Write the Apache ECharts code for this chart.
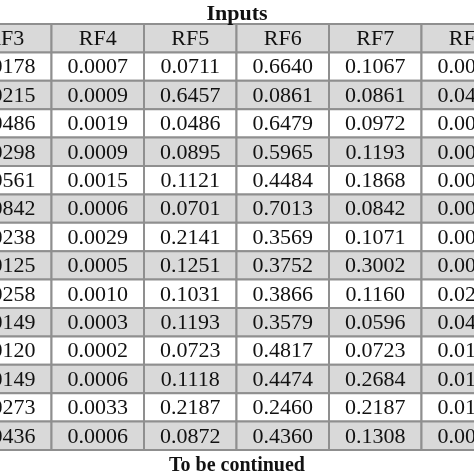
<!DOCTYPE html>
<html>
<head>
<meta charset="utf-8">
<script src="https://cdn.jsdelivr.net/npm/echarts@6/dist/echarts.min.js"></script>
<style>html,body{margin:0;padding:0;background:#fff}#main{width:474px;height:474px}</style>
</head>
<body>
<div id="main"></div>
<script>
var columns = ['RF3', 'RF4', 'RF5', 'RF6', 'RF7', 'RF8'];
var rf3 = ['0.0178', '0.0215', '0.0486', '0.0298', '0.0561', '0.0842', '0.0238', '0.0125', '0.0258', '0.0149', '0.0120', '0.0149', '0.0273', '0.0436'];
var rf4 = ['0.0007', '0.0009', '0.0019', '0.0009', '0.0015', '0.0006', '0.0029', '0.0005', '0.0010', '0.0003', '0.0002', '0.0006', '0.0033', '0.0006'];
var rf5 = ['0.0711', '0.6457', '0.0486', '0.0895', '0.1121', '0.0701', '0.2141', '0.1251', '0.1031', '0.1193', '0.0723', '0.1118', '0.2187', '0.0872'];
var rf6 = ['0.6640', '0.0861', '0.6479', '0.5965', '0.4484', '0.7013', '0.3569', '0.3752', '0.3866', '0.3579', '0.4817', '0.4474', '0.2460', '0.4360'];
var rf7 = ['0.1067', '0.0861', '0.0972', '0.1193', '0.1868', '0.0842', '0.1071', '0.3002', '0.1160', '0.0596', '0.0723', '0.2684', '0.2187', '0.1308'];
var rf8 = ['0.0036', '0.0430', '0.0049', '0.0060', '0.0075', '0.0028', '0.0071', '0.0050', '0.0258', '0.0477', '0.0120', '0.0149', '0.0164', '0.0044'];

var table = [rf3, rf4, rf5, rf6, rf7, rf8];
var rowCount = rf3.length + 1;

var cells = [];
columns.forEach(function (name, c) {
  cells.push([c, 0, name]);
  table[c].forEach(function (v, r) { cells.push([c, r + 1, v]); });
});

var chart = echarts.init(document.getElementById('main'));
chart.setOption({
  animation: false,
  title: [
    { text: 'Inputs', left: 'center', top: -2,
      textStyle: { fontFamily: 'Liberation Serif', fontSize: 22, fontWeight: 'bold', color: '#111' } },
    { text: 'To be continued', left: 'center', top: 451,
      textStyle: { fontFamily: 'Liberation Serif', fontSize: 20, fontWeight: 'bold', color: '#111' } }
  ],
  grid: { left: 0, right: 0, top: 24, height: 426 },
  // left part of RF3 and right part of RF8 fall outside the picture
  xAxis: { type: 'value', min: -0.0568, max: 5.0676, show: false },
  yAxis: { type: 'value', min: -0.5, max: rowCount - 0.5, inverse: true, show: false },
  series: [{
    type: 'custom',
    data: cells,
    renderItem: function (params, api) {
      var p = api.coord([api.value(0), api.value(1)]);
      var s = api.size([1, 1]);
      var row = api.value(1);
      var fill = (row % 2 === 0) ? '#d9d9d9' : '#ffffff';
      return {
        type: 'group',
        children: [{
          type: 'rect',
          shape: { x: p[0] - s[0] / 2, y: p[1] - s[1] / 2, width: s[0], height: s[1] },
          style: { fill: fill, stroke: '#8f8f8f', lineWidth: 2 }
        }, {
          type: 'text',
          style: {
            text: cells[params.dataIndex][2], x: p[0], y: p[1] + 1,
            align: 'center', verticalAlign: 'middle',
            font: '22px "Liberation Serif"', fill: '#111'
          }
        }]
      };
    }
  }]
});
</script>
</body>
</html>
